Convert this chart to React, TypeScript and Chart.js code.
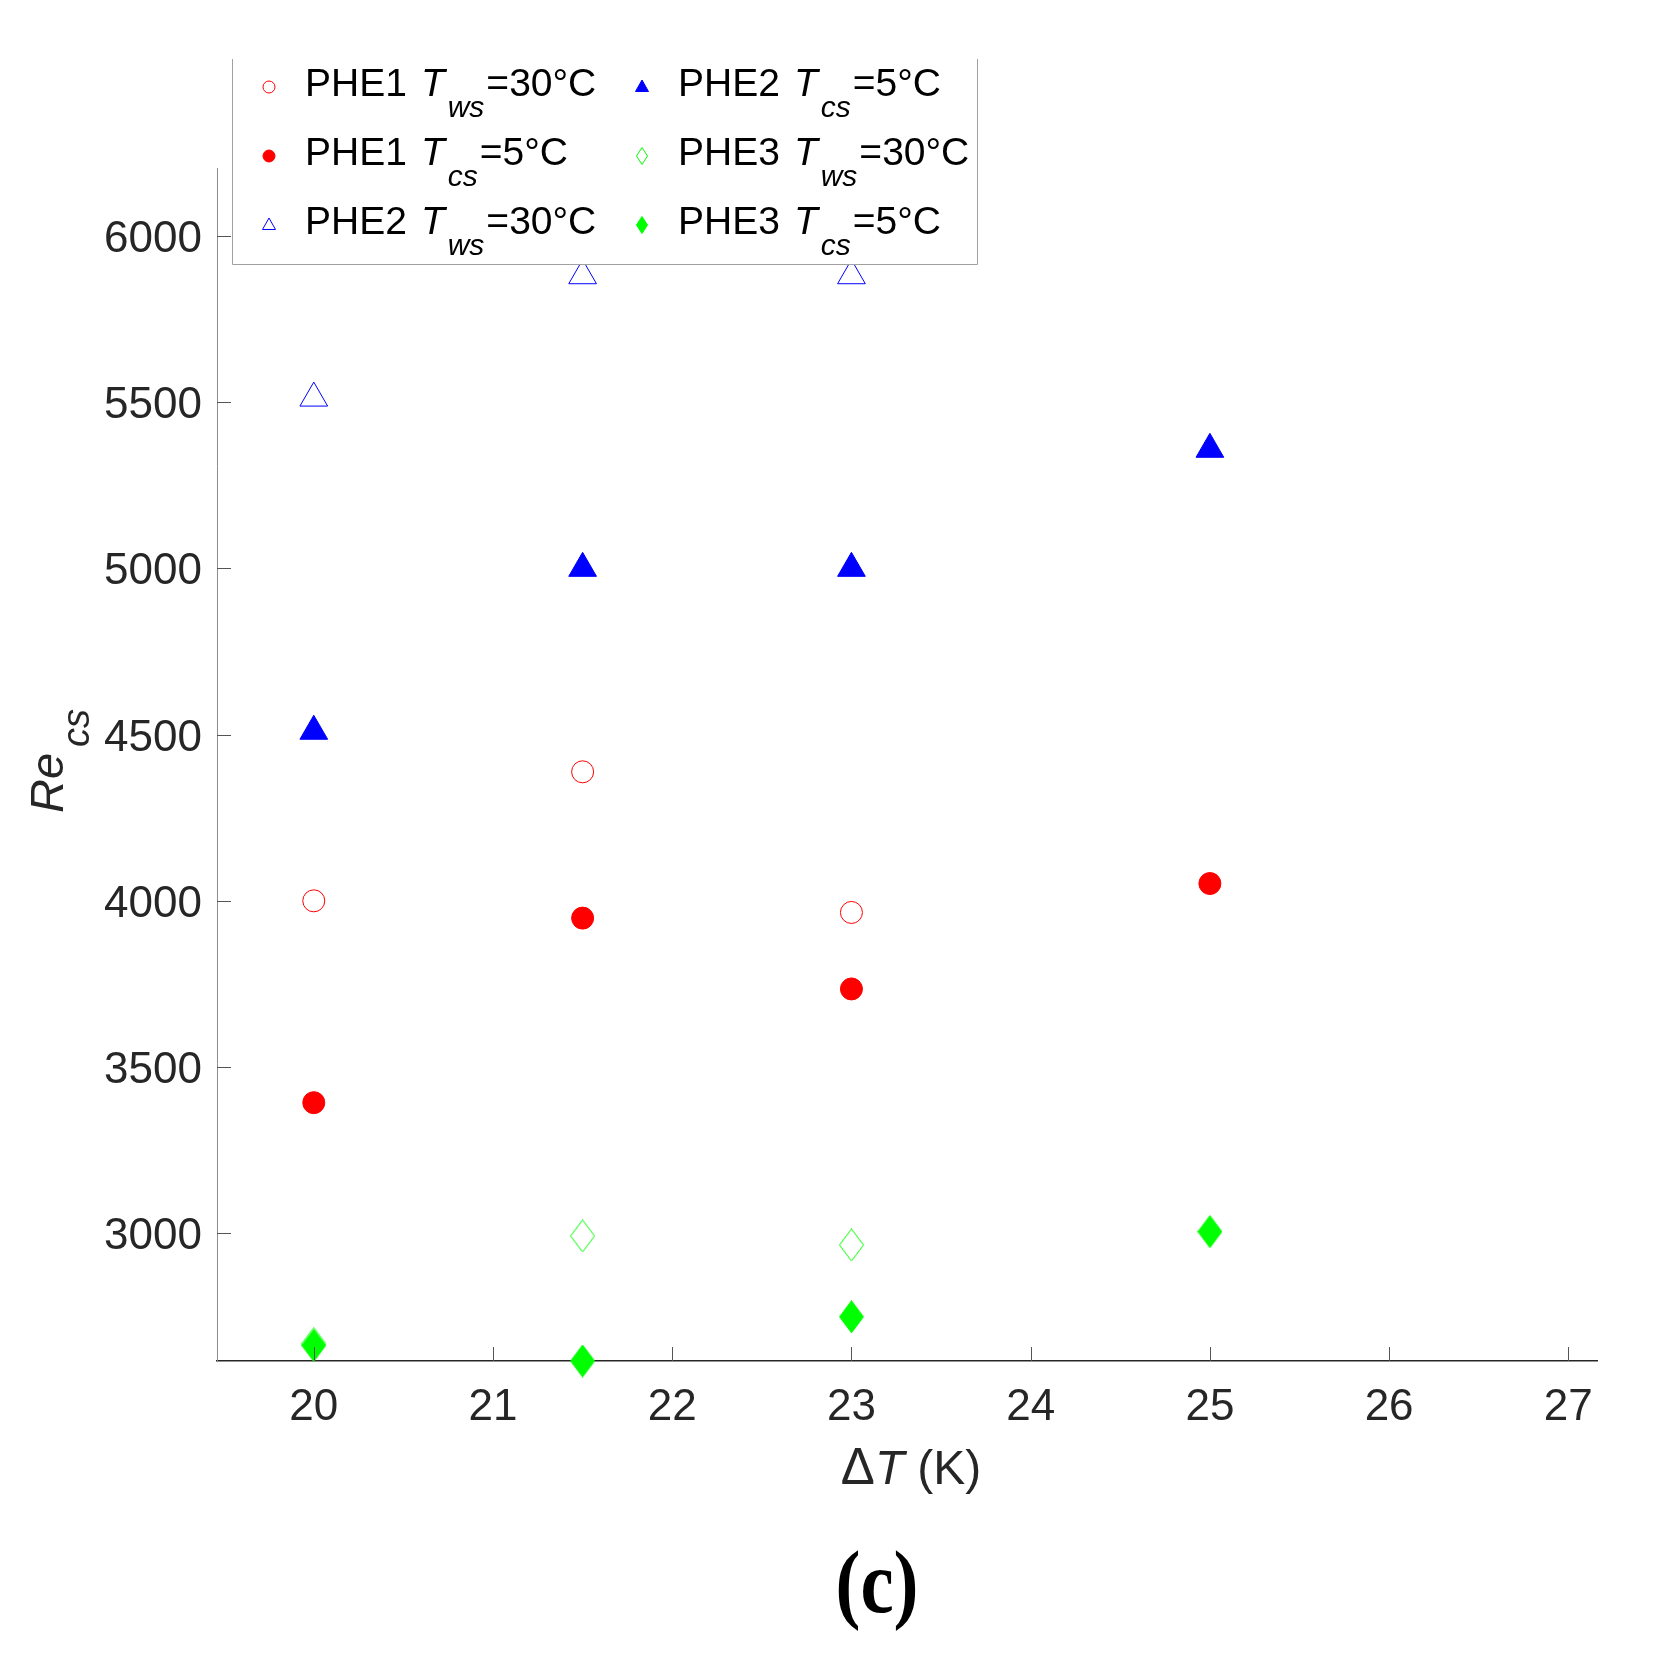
import React, { useEffect, useRef } from 'react';
import { Chart, registerables } from 'chart.js';

Chart.register(...registerables);

// ---- data ----
const xTicks = [20, 21, 22, 23, 24, 25, 26, 27];
const yTicks = [3000, 3500, 4000, 4500, 5000, 5500, 6000];
const xMin = 19.46;
const xMax = 27.16;
const yMin = 2616;
const yMax = 6204;

const phe1WsX = [20, 21.5, 23];
const phe1WsY = [4000, 4388, 3965];
const phe1CsX = [20, 21.5, 23, 25];
const phe1CsY = [3393, 3948, 3735, 4052];
const phe2WsX = [20, 21.5, 23];
const phe2WsY = [5512, 5880, 5880];
const phe2CsX = [20, 21.5, 23, 25];
const phe2CsY = [4510, 5000, 5000, 5358];
const phe3WsX = [20, 21.5, 23];
const phe3WsY = [2668, 2992, 2965];
const phe3CsX = [20, 21.5, 23, 25];
const phe3CsY = [2663, 2616, 2749, 3005];

const legendPrefix = ['PHE1', 'PHE1', 'PHE2', 'PHE2', 'PHE3', 'PHE3'];
const legendSub = ['ws', 'cs', 'ws', 'cs', 'ws', 'cs'];
const legendSuffix = ['=30°C', '=5°C', '=30°C', '=5°C', '=30°C', '=5°C'];

const RED = '#ff0000';
const BLUE = '#0000ff';
const GREEN = '#00ff00';
const SANS = "'Liberation Sans', Arial, sans-serif";
const SERIF = "'Liberation Serif', 'Times New Roman', serif";

type Kind = 'circle' | 'triangle' | 'diamond';
const seriesKind: Kind[] = ['circle', 'circle', 'triangle', 'triangle', 'diamond', 'diamond'];
const seriesFilled = [false, true, false, true, false, true];
const seriesColor = [RED, RED, BLUE, BLUE, GREEN, GREEN];

function pts(xs: number[], ys: number[]) {
  return xs.map((x, i) => ({ x, y: ys[i] }));
}

function makeDiamond(w: number, h: number, color: string, filled: boolean) {
  const c = document.createElement('canvas');
  c.width = w;
  c.height = h;
  const g = c.getContext('2d')!;
  g.beginPath();
  g.moveTo(w / 2, 0.5);
  g.lineTo(w - 0.5, h / 2);
  g.lineTo(w / 2, h - 0.5);
  g.lineTo(0.5, h / 2);
  g.closePath();
  if (filled) {
    g.fillStyle = color;
    g.fill();
  }
  g.strokeStyle = color;
  g.lineWidth = 1;
  g.stroke();
  return c;
}

function drawLegendMarker(ctx: CanvasRenderingContext2D, kind: Kind, filled: boolean, color: string, x: number, y: number) {
  ctx.save();
  ctx.beginPath();
  if (kind === 'circle') {
    ctx.arc(x, y, 6, 0, Math.PI * 2);
  } else if (kind === 'triangle') {
    ctx.moveTo(x, y - 7);
    ctx.lineTo(x + 6.5, y + 4.5);
    ctx.lineTo(x - 6.5, y + 4.5);
    ctx.closePath();
  } else {
    ctx.moveTo(x, y - 8.5);
    ctx.lineTo(x + 5.5, y);
    ctx.lineTo(x, y + 8.5);
    ctx.lineTo(x - 5.5, y);
    ctx.closePath();
  }
  if (filled) {
    ctx.fillStyle = color;
    ctx.fill();
  }
  ctx.strokeStyle = color;
  ctx.lineWidth = 1;
  ctx.stroke();
  ctx.restore();
}

export default function App() {
  const ref = useRef<HTMLCanvasElement>(null);

  useEffect(() => {
    document.body.style.margin = '0';
    const canvas = ref.current;
    if (!canvas) return;

    const diamondOpen = makeDiamond(25, 33, GREEN, false);
    const diamondFilled = makeDiamond(25, 33, GREEN, true);

    const seriesX = [phe1WsX, phe1CsX, phe2WsX, phe2CsX, phe3WsX, phe3CsX];
    const seriesY = [phe1WsY, phe1CsY, phe2WsY, phe2CsY, phe3WsY, phe3CsY];

    const datasets = seriesX.map((xs, i) => {
      const kind = seriesKind[i];
      const filled = seriesFilled[i];
      const color = seriesColor[i];
      let pointStyle: any = kind;
      let radius = 11;
      if (kind === 'triangle') radius = 16;
      if (kind === 'diamond') pointStyle = filled ? diamondFilled : diamondOpen;
      return {
        label: legendPrefix[i] + ' T' + legendSub[i] + legendSuffix[i],
        data: pts(xs, seriesY[i]),
        pointStyle,
        pointRadius: radius,
        borderColor: color,
        backgroundColor: filled ? color : 'rgba(0,0,0,0)',
        borderWidth: 1,
        showLine: false,
        clip: false as any,
      };
    });

    const drawPlugin = {
      id: 'matlabStyle',
      beforeDraw(chart: any) {
        const { ctx, width, height } = chart;
        ctx.save();
        ctx.fillStyle = '#ffffff';
        ctx.fillRect(0, 0, width, height);
        ctx.restore();
      },
      afterDatasetsDraw(chart: any) {
        const { ctx, chartArea, scales } = chart;
        const xs = scales.x;
        const ys = scales.y;
        ctx.save();
        ctx.lineWidth = 1;
        ctx.strokeStyle = '#555555';
        ctx.beginPath();
        xTicks.forEach((v) => {
          const px = Math.round(xs.getPixelForValue(v)) + 0.5;
          ctx.moveTo(px, chartArea.bottom);
          ctx.lineTo(px, chartArea.bottom - 14);
        });
        yTicks.forEach((v) => {
          const py = Math.round(ys.getPixelForValue(v)) + 0.5;
          ctx.moveTo(chartArea.left, py);
          ctx.lineTo(chartArea.left + 14, py);
        });
        ctx.stroke();
        ctx.restore();
      },
      afterDraw(chart: any) {
        const { ctx } = chart;
        ctx.save();
        // legend box
        const L = 232, R = 977, T = 59, B = 264;
        ctx.fillStyle = '#ffffff';
        ctx.fillRect(L, T, R - L, B - T);
        ctx.strokeStyle = '#a0a0a0';
        ctx.lineWidth = 1;
        ctx.beginPath();
        ctx.moveTo(L + 0.5, T);
        ctx.lineTo(L + 0.5, B + 0.5);
        ctx.lineTo(R + 0.5, B + 0.5);
        ctx.lineTo(R + 0.5, T);
        ctx.stroke();

        const colMarkerX = [269, 642];
        const colTextX = [305, 678];
        const rowBase = [96, 165, 234];
        for (let i = 0; i < 6; i++) {
          const col = Math.floor(i / 3);
          const row = i % 3;
          const base = rowBase[row];
          drawLegendMarker(ctx, seriesKind[i], seriesFilled[i], seriesColor[i], colMarkerX[col], base - 9);
          let x = colTextX[col];
          ctx.fillStyle = '#000000';
          ctx.textBaseline = 'alphabetic';
          ctx.textAlign = 'left';
          ctx.font = `39px ${SANS}`;
          ctx.fillText(legendPrefix[i], x, base);
          x += ctx.measureText(legendPrefix[i]).width + 14;
          ctx.font = `italic 39px ${SANS}`;
          ctx.fillText('T', x, base);
          x += ctx.measureText('T').width + 3;
          ctx.font = `italic 30px ${SANS}`;
          ctx.fillText(legendSub[i], x, base + 21);
          x += ctx.measureText(legendSub[i]).width + 2;
          ctx.font = `39px ${SANS}`;
          ctx.fillText(legendSuffix[i], x, base);
        }

        // y axis title: Re_cs (rotated)
        ctx.save();
        ctx.translate(63, 813);
        ctx.rotate(-Math.PI / 2);
        ctx.fillStyle = '#262626';
        ctx.textAlign = 'left';
        ctx.textBaseline = 'alphabetic';
        ctx.font = `italic 47px ${SANS}`;
        ctx.fillText('Re', 0, 0);
        const reW = ctx.measureText('Re').width;
        ctx.font = `italic 38px ${SANS}`;
        ctx.fillText('cs', reW + 6, 26);
        ctx.restore();

        // x axis title: ΔT (K)
        ctx.fillStyle = '#262626';
        ctx.textAlign = 'left';
        ctx.textBaseline = 'alphabetic';
        const parts = [
          { t: 'Δ', f: `51px ${SANS}`, gap: 0 },
          { t: 'T', f: `italic 48px ${SANS}`, gap: 13 },
          { t: '(K)', f: `48px ${SANS}`, gap: 0 },
        ];
        let total = 0;
        parts.forEach((p) => {
          ctx.font = p.f;
          total += ctx.measureText(p.t).width + p.gap;
        });
        let xx = 911 - total / 2;
        parts.forEach((p) => {
          ctx.font = p.f;
          ctx.fillText(p.t, xx, 1484);
          xx += ctx.measureText(p.t).width + p.gap;
        });

        // panel label (c)
        ctx.save();
        ctx.translate(877, 1612);
        ctx.scale(0.85, 1);
        ctx.fillStyle = '#000000';
        ctx.textAlign = 'center';
        ctx.font = `bold 88px ${SERIF}`;
        ctx.fillText('(c)', 0, 0);
        ctx.restore();

        ctx.restore();
      },
    };

    const chart = new Chart(canvas, {
      type: 'scatter',
      data: { datasets: datasets as any },
      options: {
        responsive: false,
        devicePixelRatio: 1,
        animation: false,
        events: [],
        layout: { padding: { left: 0, top: 168, right: 62, bottom: 0 } },
        plugins: {
          legend: { display: false },
          tooltip: { enabled: false },
          title: { display: false },
        },
        scales: {
          x: {
            type: 'linear',
            min: xMin,
            max: xMax,
            afterBuildTicks: (s: any) => {
              s.ticks = xTicks.map((v) => ({ value: v }));
            },
            afterFit: (s: any) => {
              s.height = 301;
            },
            grid: { display: false, drawTicks: false },
            border: { display: true, color: '#262626', width: 1.5 },
            ticks: {
              color: '#262626',
              font: { family: SANS, size: 44 },
              padding: 20,
              maxRotation: 0,
              autoSkip: false,
              callback: (v: any) => String(v),
            },
          },
          y: {
            type: 'linear',
            min: yMin,
            max: yMax,
            afterBuildTicks: (s: any) => {
              s.ticks = yTicks.map((v) => ({ value: v }));
            },
            afterFit: (s: any) => {
              s.width = 217;
            },
            grid: { display: false, drawTicks: false },
            border: { display: true, color: '#8c8c8c', width: 1 },
            ticks: {
              color: '#262626',
              font: { family: SANS, size: 44 },
              padding: 15,
              labelOffset: 4,
              autoSkip: false,
              callback: (v: any) => String(v),
            },
          },
        },
      },
      plugins: [drawPlugin],
    });

    return () => chart.destroy();
  }, []);

  return (
    <canvas
      ref={ref}
      width={1659}
      height={1662}
      style={{ display: 'block', width: '1659px', height: '1662px' }}
    />
  );
}
